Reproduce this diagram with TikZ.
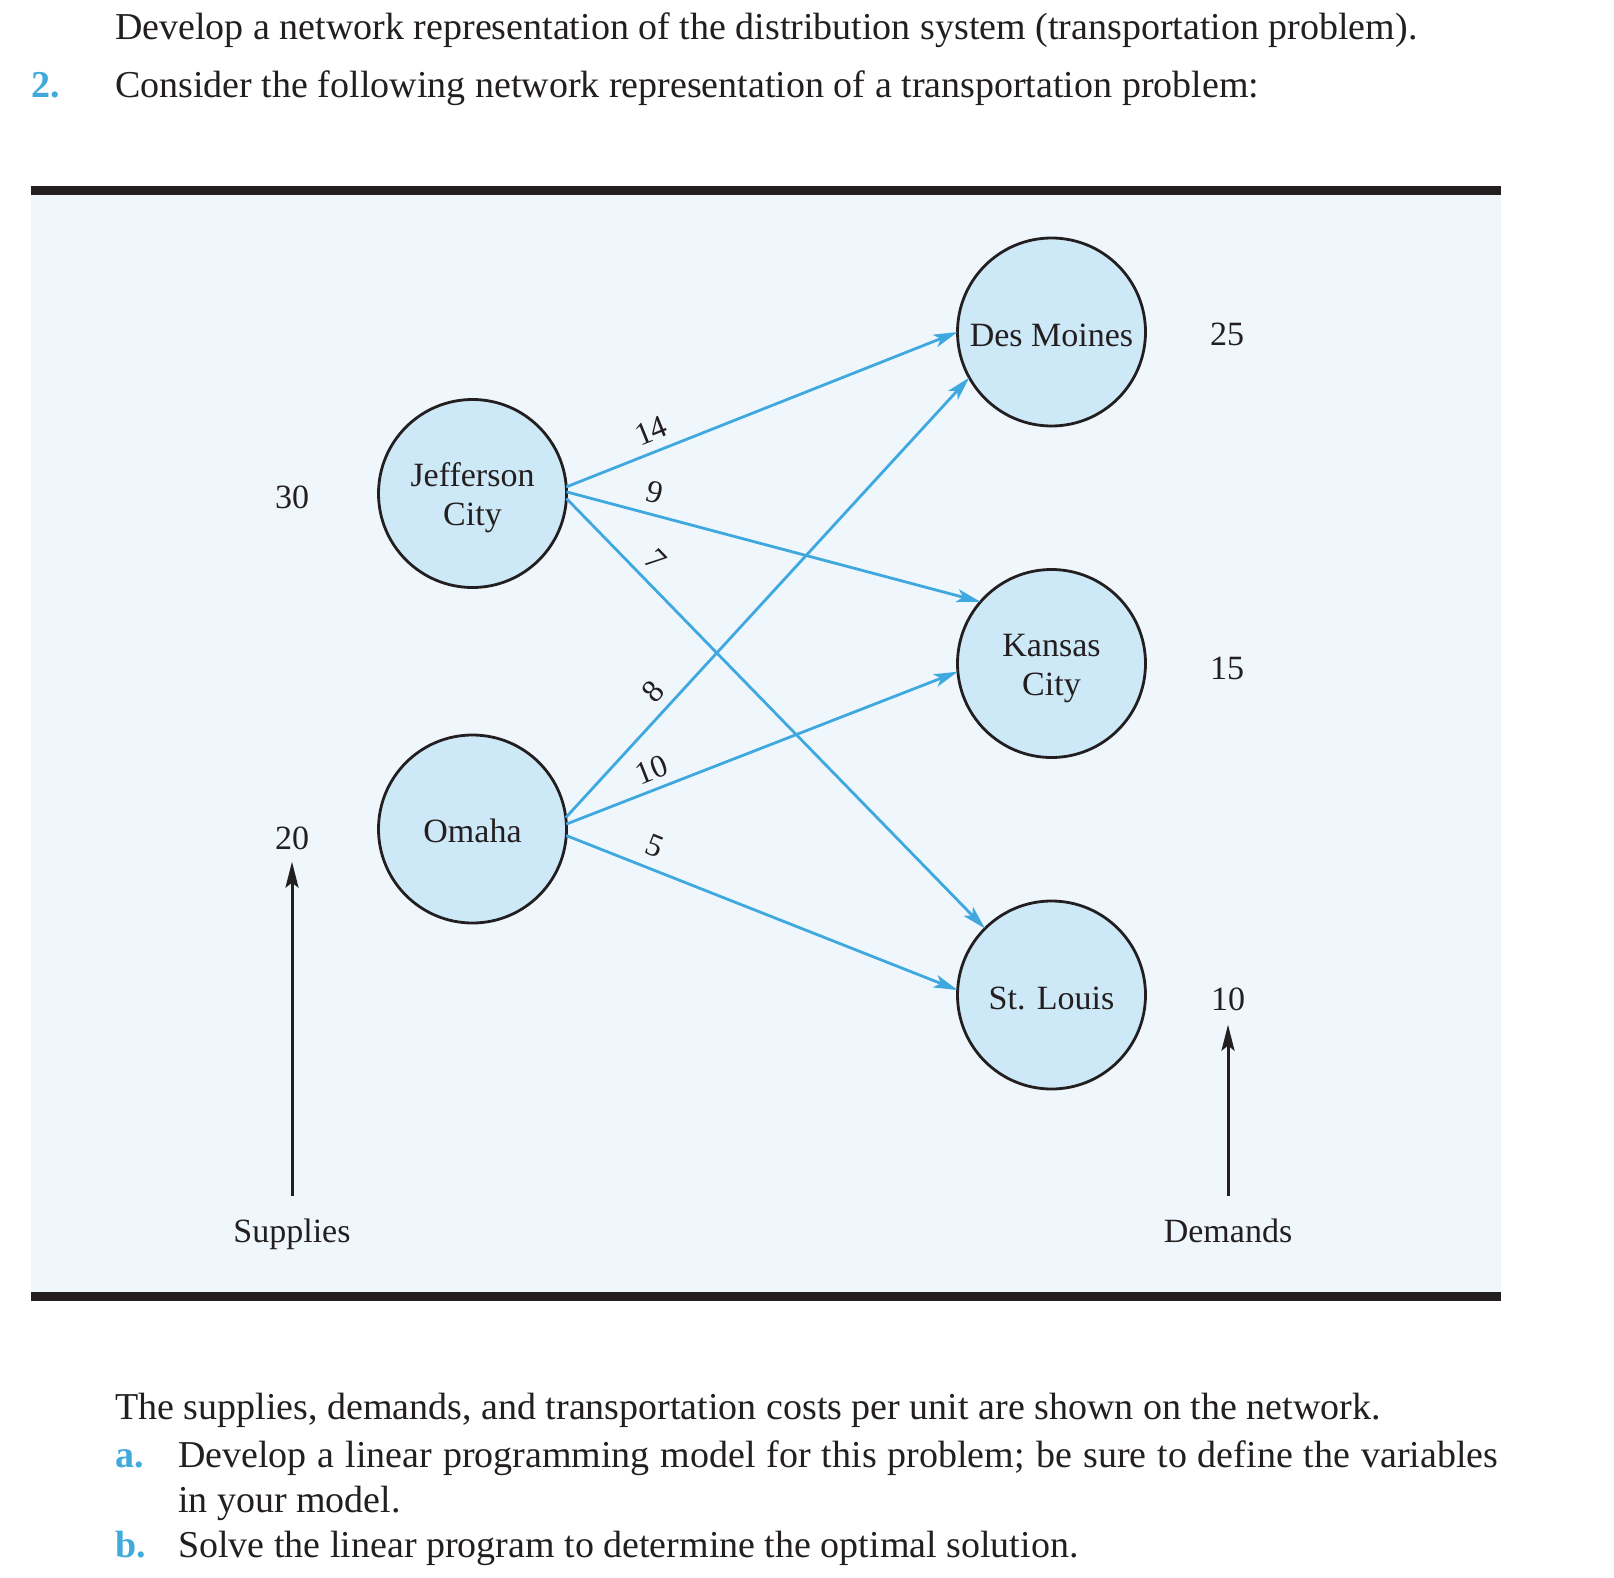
\documentclass[tikz,border=0pt]{standalone}
\usepackage{fontspec}
\setmainfont{Liberation Serif}
\usetikzlibrary{arrows.meta}
\definecolor{edgeblue}{RGB}{62,168,223}
\definecolor{nodefill}{RGB}{205,232,246}
\definecolor{panelbg}{RGB}{239,247,252}
\definecolor{inkblack}{RGB}{35,31,32}
\definecolor{numblue}{RGB}{64,170,220}
\newcommand\citytext[2]{\raisebox{-#1}[\height][\depth]{\begin{tabular}{@{}c@{}}#2\end{tabular}}}
\newcommand\citysingle[2]{\raisebox{-#1}[\height][\depth]{#2}}
\begin{document}
\begin{tikzpicture}[x=1pt,y=-1pt,
  city/.style={circle, draw=inkblack, line width=2.8pt, fill=nodefill, minimum size=188pt, inner sep=0pt, outer sep=0pt, font=\fontsize{34}{39}\selectfont, text=inkblack},
  flow/.style={draw=edgeblue, line width=2.8pt, -{Stealth[length=24pt,width=13pt,inset=6pt]}},
  cost/.style={font=\fontsize{32}{36}\selectfont, text=inkblack, inner sep=0pt},
  amount/.style={font=\fontsize{34}{38}\selectfont, text=inkblack, inner sep=0pt},
  body/.style={anchor=base west, font=\fontsize{38}{46}\selectfont, text=inkblack, inner sep=0pt},
  item/.style={anchor=base west, font=\fontsize{38}{46}\selectfont\bfseries, text=numblue, inner sep=0pt},
  upflow/.style={draw=inkblack, line width=3pt, -{Stealth[length=26pt,width=13pt,inset=5pt]}}
]
\useasboundingbox[fill=white] (0,0) rectangle (1614,1578);
% panel
\fill[panelbg] (31,195) rectangle (1501,1292);
\fill[inkblack] (31,186) rectangle (1501,195);
\fill[inkblack] (31,1292) rectangle (1501,1301);

% header text
\node[body] (l1) at (115,40) {Develop a network representation of the distribution system (transportation problem).};
\node[item] (n2) at (31,98) {2.};
\node[body] (l2) at (115,98) {Consider the following network representation of a transportation problem:};

% nodes
\node[city] (jc) at (472.5,493.5) {\citytext{5pt}{Jefferson\\City}};
\node[city] (om) at (472.5,829) {\citysingle{2pt}{Omaha}};
\node[city] (dm) at (1051.5,332) {\citysingle{3.5pt}{Des Moines}};
\node[city] (kc) at (1051.5,663.5) {\citytext{5pt}{Kansas\\City}};
\node[city] (stl) at (1051.5,995) {\citysingle{3.5pt}{St. Louis}};

% edges
\draw[flow] (jc.4.4) -- (dm.180);
\draw[flow] (jc.1) -- (kc.139.4);
\draw[flow] (jc.-3.9) -- (stl.135.2);
\draw[flow] (om.7) -- (dm.209);
\draw[flow] (om.3.6) -- (kc.185);
\draw[flow] (om.-4) -- (stl.177.7);

% costs
\node[cost, rotate=21.9] (c14) at (651,431) {14};
\node[cost, rotate=-14.6] (c9) at (655,492) {9};
\node[cost, rotate=-45.9] (c7) at (656,560) {7};
\node[cost, rotate=47.9] (c8) at (653,692) {8};
\node[cost, rotate=21.5] (c10) at (652,770) {10};
\node[cost, rotate=-22] (c5) at (655,846) {5};

% supplies and demands
\node[amount] (s30) at (292,497) {30};
\node[amount] (s20) at (292,838) {20};
\node[amount] (d25) at (1227,334) {25};
\node[amount] (d15) at (1227,668) {15};
\node[amount] (d10) at (1228,999) {10};
\node[amount, anchor=base] (sup) at (292,1242) {Supplies};
\node[amount, anchor=base] (dem) at (1228,1242) {Demands};
\draw[upflow, shorten <=22pt, shorten >=12pt] (sup.north -| s20.south) -- (s20.south);
\draw[upflow, shorten <=22pt, shorten >=14pt] (dem.north -| d10.south) -- (d10.south);

% footer text
\node[body] (f1) at (115,1419) {The supplies, demands, and transportation costs per unit are shown on the network.};
\node[item] (fa) at (115,1467) {a.};
\node[body] (f2) at (178,1467) {\makebox[1320pt][s]{Develop a linear programming model for this problem; be sure to define the variables}};
\node[body] (f3) at (178,1512) {in your model.};
\node[item] (fb) at (115,1557) {b.};
\node[body] (f4) at (178,1557) {Solve the linear program to determine the optimal solution.};
\end{tikzpicture}
\end{document}
